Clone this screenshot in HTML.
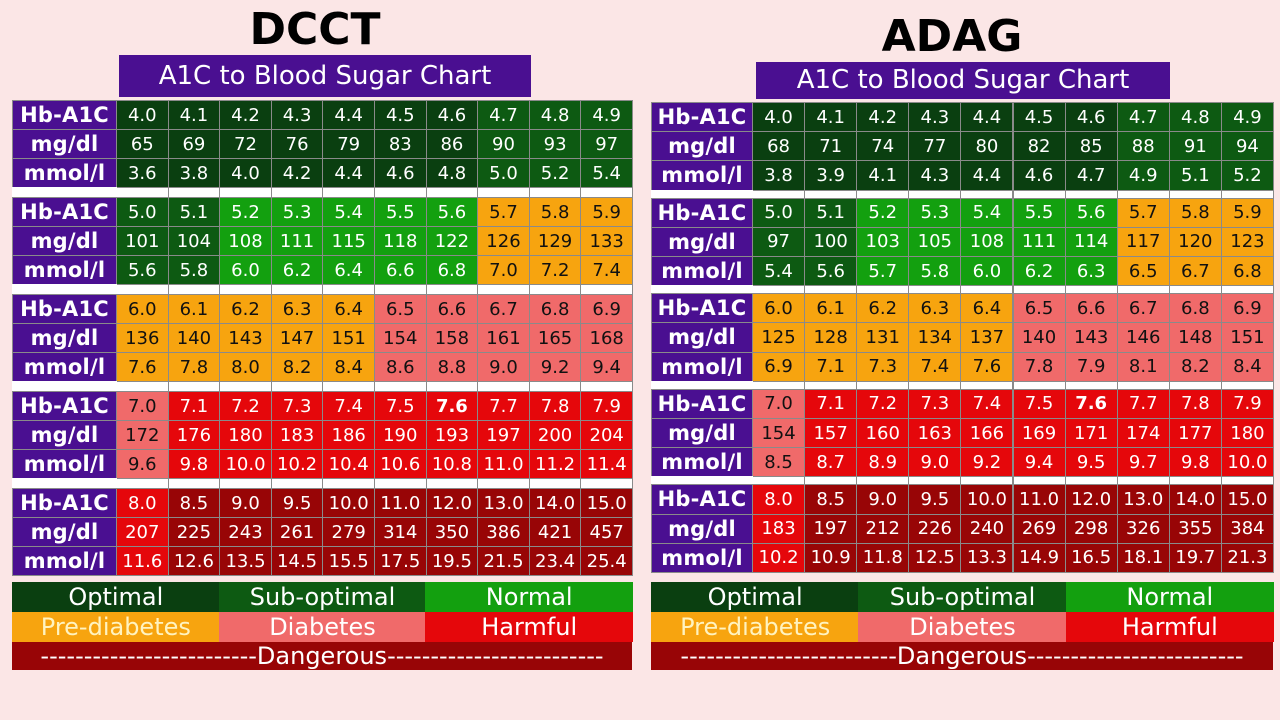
<!DOCTYPE html>
<html><head><meta charset="utf-8"><style>
body{margin:0;width:1280px;height:720px;background:#fbe6e6;overflow:hidden;position:relative;font-family:"DejaVu Sans","Liberation Sans",sans-serif}
.t{position:absolute;font-weight:bold;color:#000;text-align:center}
.sub{position:absolute;background:#4a0f91;color:#fff;text-align:center;font-size:26px}
.c{position:absolute;box-sizing:border-box;border:1px solid #8a8a8a;text-align:center;color:#fff;font-size:18px;display:flex;align-items:center;justify-content:center;white-space:nowrap}
.lab{background:#4a0f91;font-size:21px;font-weight:bold;letter-spacing:0.2px}
.lg{position:absolute;color:#fff;font-size:24px;text-align:center;display:flex;align-items:center;justify-content:center;white-space:nowrap;overflow:hidden}
</style></head><body>
<div class="t" style="left:165px;top:4px;width:300px;font-size:44px">DCCT</div>
<div class="sub" style="left:119px;top:55px;width:412px;height:42px;line-height:42px">A1C to Blood Sugar Chart</div>
<div class="t" style="left:802px;top:11px;width:300px;font-size:44px">ADAG</div>
<div class="sub" style="left:756px;top:62px;width:414px;height:37px;line-height:37px">A1C to Blood Sugar Chart</div>
<div id="root"></div>
<script>
const rowLabels=["Hb-A1C","mg/dl","mmol/l"];
const a1c=[["4.0","4.1","4.2","4.3","4.4","4.5","4.6","4.7","4.8","4.9"],["5.0","5.1","5.2","5.3","5.4","5.5","5.6","5.7","5.8","5.9"],["6.0","6.1","6.2","6.3","6.4","6.5","6.6","6.7","6.8","6.9"],["7.0","7.1","7.2","7.3","7.4","7.5","7.6","7.7","7.8","7.9"],["8.0","8.5","9.0","9.5","10.0","11.0","12.0","13.0","14.0","15.0"]];
const dcctMg=[[65,69,72,76,79,83,86,90,93,97],[101,104,108,111,115,118,122,126,129,133],[136,140,143,147,151,154,158,161,165,168],[172,176,180,183,186,190,193,197,200,204],[207,225,243,261,279,314,350,386,421,457]];
const dcctMmol=[["3.6","3.8","4.0","4.2","4.4","4.6","4.8","5.0","5.2","5.4"],["5.6","5.8","6.0","6.2","6.4","6.6","6.8","7.0","7.2","7.4"],["7.6","7.8","8.0","8.2","8.4","8.6","8.8","9.0","9.2","9.4"],["9.6","9.8","10.0","10.2","10.4","10.6","10.8","11.0","11.2","11.4"],["11.6","12.6","13.5","14.5","15.5","17.5","19.5","21.5","23.4","25.4"]];
const adagMg=[[68,71,74,77,80,82,85,88,91,94],[97,100,103,105,108,111,114,117,120,123],[125,128,131,134,137,140,143,146,148,151],[154,157,160,163,166,169,171,174,177,180],[183,197,212,226,240,269,298,326,355,384]];
const adagMmol=[["3.8","3.9","4.1","4.3","4.4","4.6","4.7","4.9","5.1","5.2"],["5.4","5.6","5.7","5.8","6.0","6.2","6.3","6.5","6.7","6.8"],["6.9","7.1","7.3","7.4","7.6","7.8","7.9","8.1","8.2","8.4"],["8.5","8.7","8.9","9.0","9.2","9.4","9.5","9.7","9.8","10.0"],["10.2","10.9","11.8","12.5","13.3","14.9","16.5","18.1","19.7","21.3"]];
const cats=["OOOOOOOSSS","SSNNNNNPPP","PPPPPDDDDD","DHHHHHHHHH","HXXXXXXXXX"];
const catColor={O:"#0a3f10",S:"#0d5a12",N:"#13a00f",P:"#f7a40f",D:"#f06a6a",H:"#e5070b",X:"#980506"};
const catText={O:"#fff",S:"#fff",N:"#fff",P:"#111",D:"#111",H:"#fff",X:"#fff"};
const root=document.getElementById('root');
function mk(cls,x,y,w,h,txt,bg,fg){const d=document.createElement('div');d.className=cls;d.style.cssText=`left:${x}px;top:${y}px;width:${w}px;height:${h}px;`+(bg?`background:${bg};`:'')+(fg?`color:${fg};`:'');d.textContent=txt;root.appendChild(d);return d;}
function table(name,x0,labW,x1,y0,rowH,gap,mg,mmol,ly){
  const cw=(x1-x0-labW)/10;
  for(let g=0;g<5;g++){
    const gy=y0+g*(3*rowH+gap);
    const rows=[a1c[g],mg[g],mmol[g]];
    for(let r=0;r<3;r++){
      const y=gy+r*rowH;
      const l=mk('c lab',x0,y,labW+1,rowH+1,rowLabels[r]);
      
      
      for(let i=0;i<10;i++){
        const k=cats[g][i];
        const c=mk('c',x0+labW+i*cw,y,cw+1,rowH+1,String(rows[r][i]),catColor[k],catText[k]);
        if(r===0&&g===3&&i===6)c.style.fontWeight='bold';
        
        
      }
    }
    if(g<4){for(let i=0;i<10;i++){const s=mk('c',x0+labW+i*cw,gy+3*rowH,cw+1,gap+1,'','#fff');
      
      }
      const s2=mk('c',x0,gy+3*rowH,labW+1,gap+1,'','#fff');s2.style.border='none';
      
      }
  }
  const W=x1-x0,w3=W/3;
  const leg=[["Optimal","O"],["Sub-optimal","S"],["Normal","N"],["Pre-diabetes","P"],["Diabetes","D"],["Harmful","H"]];
  leg.forEach((e,i)=>{const d=mk('lg',x0+(i%3)*w3,ly+Math.floor(i/3)*30,w3+1,30,e[0],catColor[e[1]],e[1]==='P'?'#fff3c0':'#fff');
    
    });
  const d=mk('lg',x0,ly+60,W,28,'-------------------------Dangerous-------------------------',catColor.X,'#fff');
  
  
}
table('dcct',12,104,632,100,29,10,dcctMg,dcctMmol,582);
table('adag',651,101,1273,102,29.2,8,adagMg,adagMmol,582);
</script>
</body></html>
